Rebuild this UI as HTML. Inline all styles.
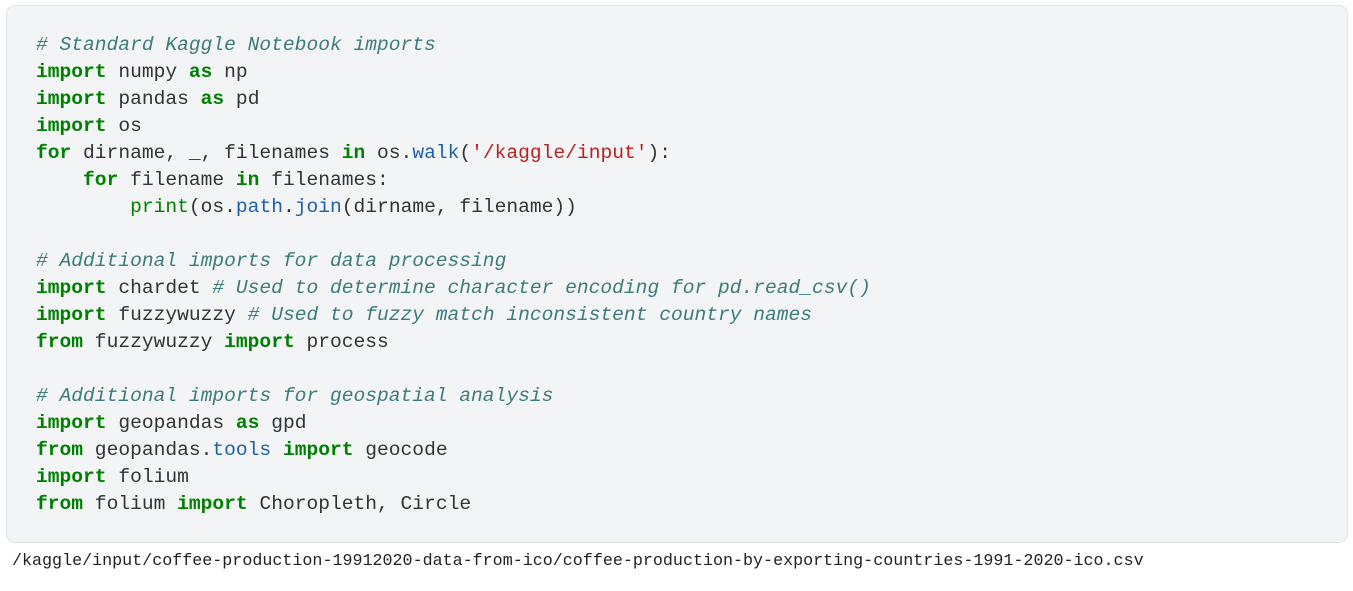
<!DOCTYPE html>
<html><head><meta charset="utf-8"><style>
body{margin:0;width:1353px;height:591px;background:#fff;overflow:hidden;font-family:"Liberation Mono",monospace;}
.box{position:absolute;left:6px;top:5px;width:1340px;height:536px;background:#f3f4f6;border:1px solid #e1e3e6;border-radius:9px;}
pre{position:absolute;left:36px;top:32px;margin:0;font-family:"Liberation Mono",monospace;font-size:19.6px;line-height:27px;color:#333;}
.k{color:#008000;font-weight:bold}
.c{color:#3d7b7b;font-style:italic}
.s{color:#ba2121}
.b{color:#1f5fa8}
.g{color:#008000}
.out{position:absolute;left:12px;top:550px;font-size:16.7px;color:#222;white-space:pre;line-height:24px;}
</style></head><body>
<div class="box"></div>
<pre><span class="c"># Standard Kaggle Notebook imports</span>
<span class="k">import</span> numpy <span class="k">as</span> np
<span class="k">import</span> pandas <span class="k">as</span> pd
<span class="k">import</span> os
<span class="k">for</span> dirname, _, filenames <span class="k">in</span> os.<span class="b">walk</span>(<span class="s">'/kaggle/input'</span>):
    <span class="k">for</span> filename <span class="k">in</span> filenames:
        <span class="g">print</span>(os.<span class="b">path</span>.<span class="b">join</span>(dirname, filename))

<span class="c"># Additional imports for data processing</span>
<span class="k">import</span> chardet <span class="c"># Used to determine character encoding for pd.read_csv()</span>
<span class="k">import</span> fuzzywuzzy <span class="c"># Used to fuzzy match inconsistent country names</span>
<span class="k">from</span> fuzzywuzzy <span class="k">import</span> process

<span class="c"># Additional imports for geospatial analysis</span>
<span class="k">import</span> geopandas <span class="k">as</span> gpd
<span class="k">from</span> geopandas.<span class="b">tools</span> <span class="k">import</span> geocode
<span class="k">import</span> folium
<span class="k">from</span> folium <span class="k">import</span> Choropleth, Circle</pre>
<div class="out">/kaggle/input/coffee-production-19912020-data-from-ico/coffee-production-by-exporting-countries-1991-2020-ico.csv</div>
</body></html>
